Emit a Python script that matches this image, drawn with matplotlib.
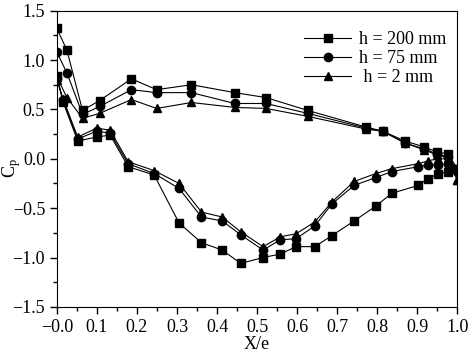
import numpy as np
from matplotlib import pyplot as plt

plt.rcParams['font.family'] = ['Liberation Serif', 'DejaVu Serif']
plt.rcParams['mathtext.fontset'] = 'stix'

# upper surface (same stations for all three cases)
x_up = [0.0, 0.025, 0.064, 0.107, 0.186, 0.249, 0.336, 0.444, 0.522, 0.626,
        0.773, 0.813, 0.869, 0.917, 0.948, 0.976, 1.0]
cp_up_200 = [1.32, 1.10, 0.49, 0.59, 0.81, 0.70, 0.75, 0.67, 0.62, 0.49,
             0.32, 0.28, 0.18, 0.12, 0.07, 0.05, -0.10]
cp_up_75 = [1.08, 0.87, 0.45, 0.53, 0.70, 0.67, 0.67, 0.56, 0.56, 0.46,
            0.31, 0.28, 0.16, 0.10, 0.05, 0.02, -0.12]
cp_up_2 = [0.83, 0.62, 0.41, 0.46, 0.60, 0.51, 0.57, 0.52, 0.51, 0.43,
           0.30, 0.28, 0.16, 0.09, 0.04, 0.01, -0.22]

# lower surface
x_lo = [0.0, 0.015, 0.052, 0.099, 0.133, 0.178, 0.243, 0.305, 0.361, 0.413,
        0.459, 0.515, 0.558, 0.597, 0.644, 0.686, 0.742, 0.796, 0.836, 0.902,
        0.927, 0.952, 0.977, 1.0]
cp_lo_200 = [0.84, 0.58, 0.18, 0.22, 0.24, -0.08, -0.165, -0.65, -0.85, -0.925,
             -1.06, -1.00, -0.965, -0.89, -0.89, -0.78, -0.63, -0.48, -0.35, -0.27,
             -0.20, -0.155, -0.13, -0.10]
cp_lo_75 = [0.82, 0.60, 0.20, 0.28, 0.26, -0.05, -0.15, -0.30, -0.59, -0.63,
            -0.77, -0.925, -0.82, -0.81, -0.68, -0.46, -0.27, -0.19, -0.13, -0.08,
            -0.06, -0.06, -0.05, -0.12]
cp_lo_2 = [0.80, 0.61, 0.22, 0.31, 0.29, -0.03, -0.12, -0.25, -0.54, -0.59,
           -0.74, -0.89, -0.79, -0.76, -0.64, -0.44, -0.23, -0.15, -0.10, -0.05,
           -0.02, 0.0, 0.0, -0.22]

labels = ['h = 200 mm', 'h = 75 mm', ' h = 2 mm']
markers = ['s', 'o', '^']
xticklabels = ['\u22120.0', '0.1', '0.2', '0.3', '0.4', '0.5', '0.6', '0.7', '0.8', '0.9', '1.0']
yticklabels = ['\u22121.5', '\u22121.0', '\u22120.5', '0.0', '0.5', '1.0', '1.5']

fig = plt.figure(figsize=(4.74, 3.56), dpi=100)
ax = fig.add_axes([0.12, 0.138, 0.845, 0.832])

series = [(cp_up_200, cp_lo_200), (cp_up_75, cp_lo_75), (cp_up_2, cp_lo_2)]
for (up, lo), m, lab in zip(series, markers, labels):
    ax.plot(x_up, up, color='k', lw=0.8, marker=m, ms=6, label=lab)
    ax.plot(x_lo, lo, color='k', lw=0.8, marker=m, ms=6)

ax.set_xlim(0, 1.0)
ax.set_ylim(-1.5, 1.5)
ax.set_xticks(np.arange(0, 1.01, 0.1))
ax.set_xticklabels(xticklabels)
ax.set_xticks(np.arange(0.05, 1.0, 0.1), minor=True)
ax.set_yticks(np.arange(-1.5, 1.51, 0.5))
ax.set_yticklabels(yticklabels)
ax.set_yticks(np.arange(-1.25, 1.3, 0.5), minor=True)
ax.tick_params(which='both', direction='out', labelsize=13, width=1)
ax.tick_params(which='major', length=5)
ax.tick_params(which='minor', length=3)
ax.set_xlabel('X/e', fontsize=13, labelpad=0)
ax.set_ylabel(r'C$_\mathregular{p}$', fontsize=13)
ax.yaxis.set_label_coords(-0.085, 0.47)

ax.legend(loc='upper left', bbox_to_anchor=(0.6, 0.955), frameon=False,
          fontsize=13, handlelength=2.6, labelspacing=0.1, borderaxespad=0,
          handletextpad=0.4)

fig.savefig('out.png', dpi=100)
